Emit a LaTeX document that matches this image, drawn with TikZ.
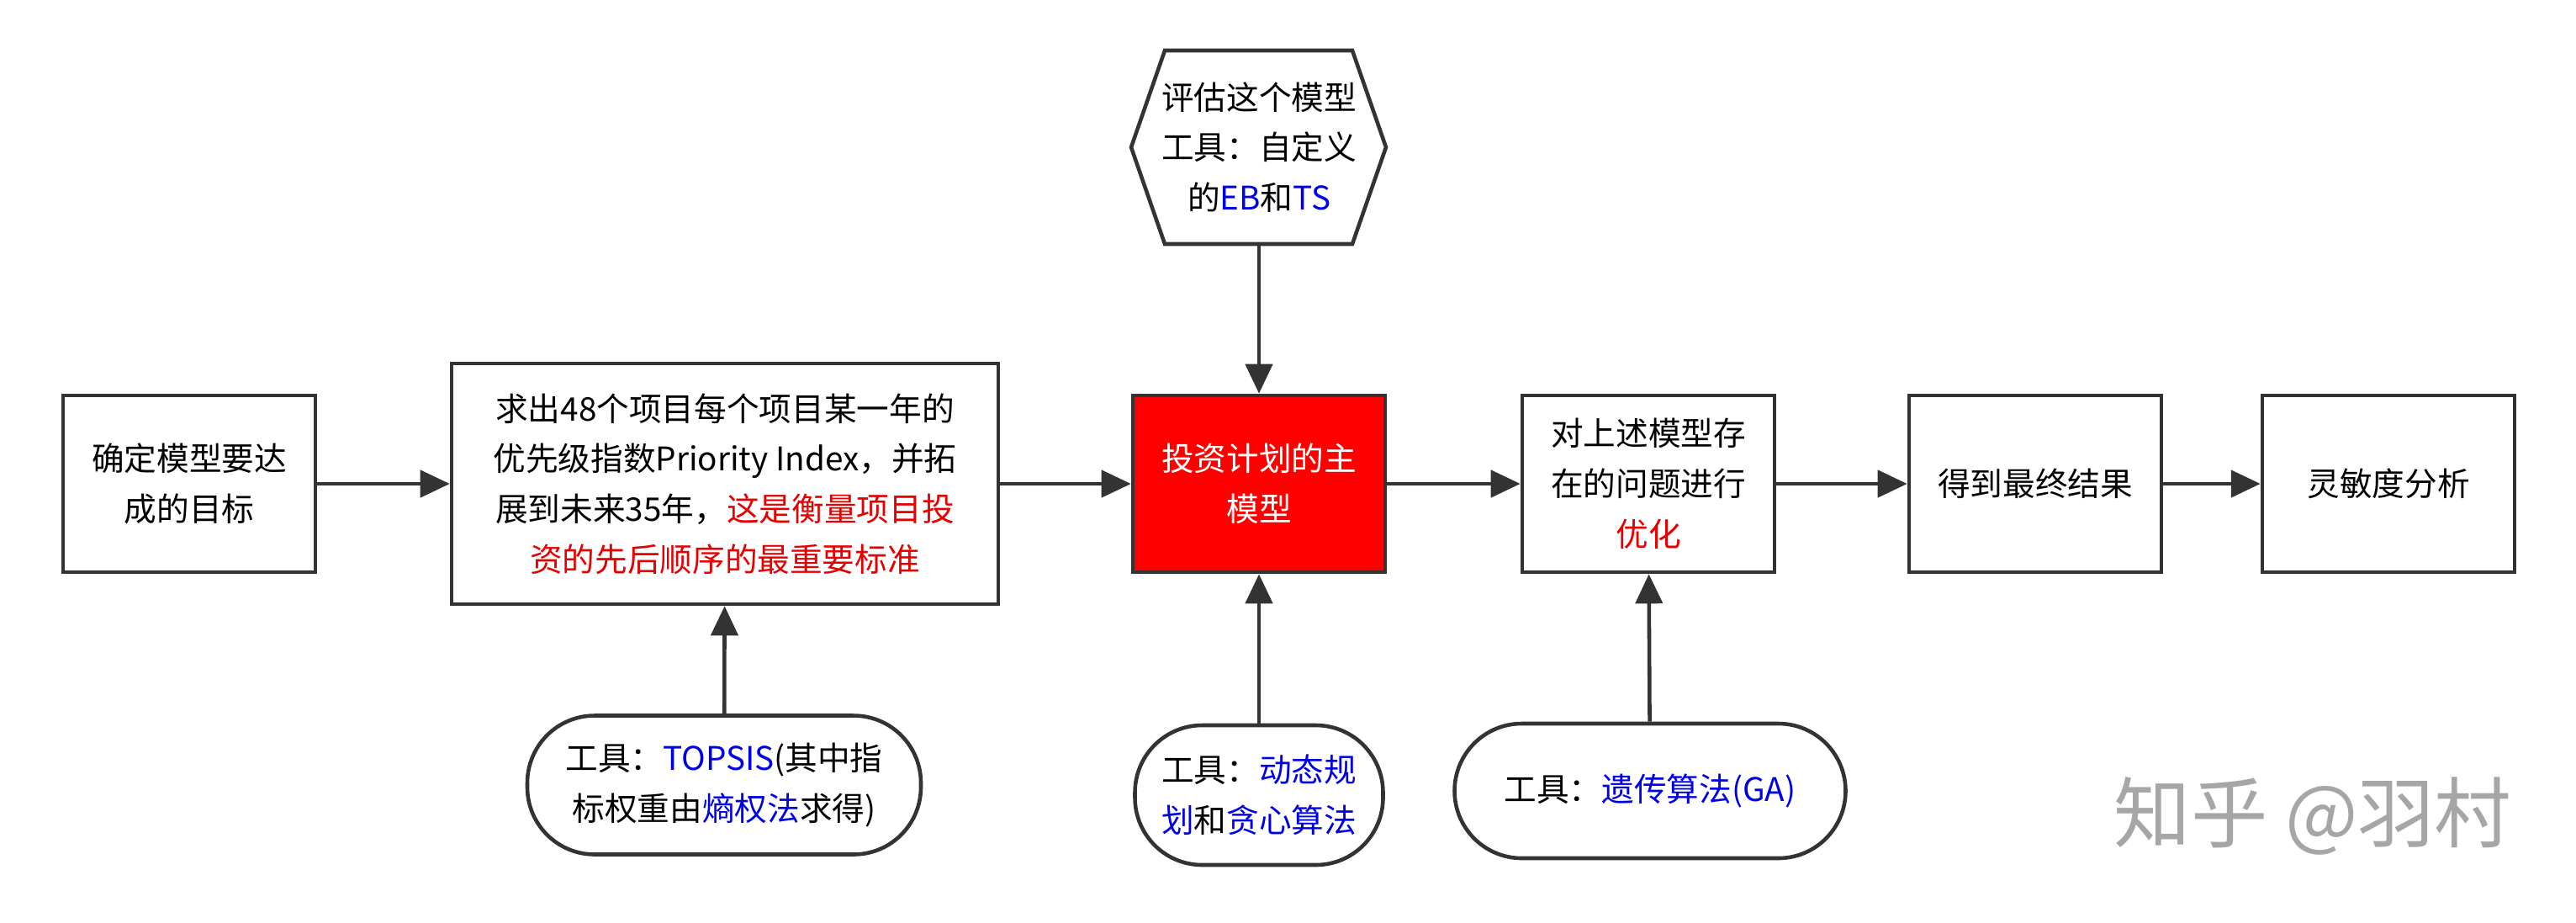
\documentclass[tikz,border=0pt]{standalone}
\usepackage{fontspec}
\setmainfont{Noto Sans CJK SC}
\usetikzlibrary{arrows.meta}
\definecolor{tblue}{RGB}{0,0,230}
\definecolor{tred}{RGB}{230,0,0}
\tikzset{
 box/.style={draw=black!80,line width=1.3pt,fill=white,minimum width=3cm,minimum height=2.1cm,align=center,font=\fontsize{11}{17}\selectfont},
 tool/.style={draw=black!80,line width=1.3pt,fill=white,rounded corners=0.8cm,align=center,font=\fontsize{11}{17}\selectfont},
 arr/.style={draw=black!80,line width=1.3pt,-{Triangle[length=0.35cm,width=0.32cm]}}
}
\begin{document}
\begin{tikzpicture}
\useasboundingbox (0,0) rectangle (30.63,-10.96);
\node[box] (b1) at (2.25,-5.75) {确定模型要达\\成的目标};
\node[box,minimum width=6.5cm,minimum height=2.86cm] (b2) at (8.62,-5.75) {求出48个项目每个项目某一年的\\优先级指数Priority Index，并拓\\展到未来35年，\textcolor{tred}{这是衡量项目投}\\\textcolor{tred}{资的先后顺序的最重要标准}};
\node[box,fill=red,text=white] (b3) at (14.97,-5.75) {投资计划的主\\模型};
\node[box] (b4) at (19.6,-5.75) {对上述模型存\\在的问题进行\\\textcolor{tred}{优化}};
\node[box] (b5) at (24.2,-5.75) {得到最终结果};
\node[box] (b6) at (28.4,-5.75) {灵敏度分析};
\coordinate (h1) at (13.45,-1.75);
\coordinate (h2) at (13.85,-0.6);
\coordinate (h3) at (16.08,-0.6);
\coordinate (h4) at (16.48,-1.75);
\coordinate (h5) at (16.08,-2.9);
\coordinate (h6) at (13.85,-2.9);
\draw[draw=black!80,line width=1.3pt] (h1)--(h2)--(h3)--(h4)--(h5)--(h6)--cycle;
\node[align=center,font=\fontsize{11}{17}\selectfont] (hex) at (14.97,-1.75) {评估这个模型\\工具：自定义\\的\textcolor{tblue}{EB}和\textcolor{tblue}{TS}};
\node[tool,minimum width=4.68cm,minimum height=1.65cm] (t1) at (8.61,-9.33) {工具：\textcolor{tblue}{TOPSIS}(其中指\\标权重由\textcolor{tblue}{熵权法}求得)};
\node[tool,minimum width=2.95cm,minimum height=1.66cm] (t2) at (14.97,-9.45) {工具：\textcolor{tblue}{动态规}\\\textcolor{tblue}{划}和\textcolor{tblue}{贪心算法}};
\node[tool,minimum width=4.65cm,minimum height=1.6cm] (t3) at (19.62,-9.4) {工具：\textcolor{tblue}{遗传算法(GA)}};
\node[text=black!35,font=\fontsize{26}{30}\selectfont] (wm) at (27.5,-9.7) {知乎 @羽村};
\draw[arr] (b1)--(b2);
\draw[arr] (b2)--(b3);
\draw[arr] (b3)--(b4);
\draw[arr] (b4)--(b5);
\draw[arr] (b5)--(b6);
\draw[arr] (h6-|hex)--(b3);
\draw[arr] (t1)--(b2);
\draw[arr] (t2)--(b3);
\draw[arr] (t3)--(b4);
\end{tikzpicture}
\end{document}
